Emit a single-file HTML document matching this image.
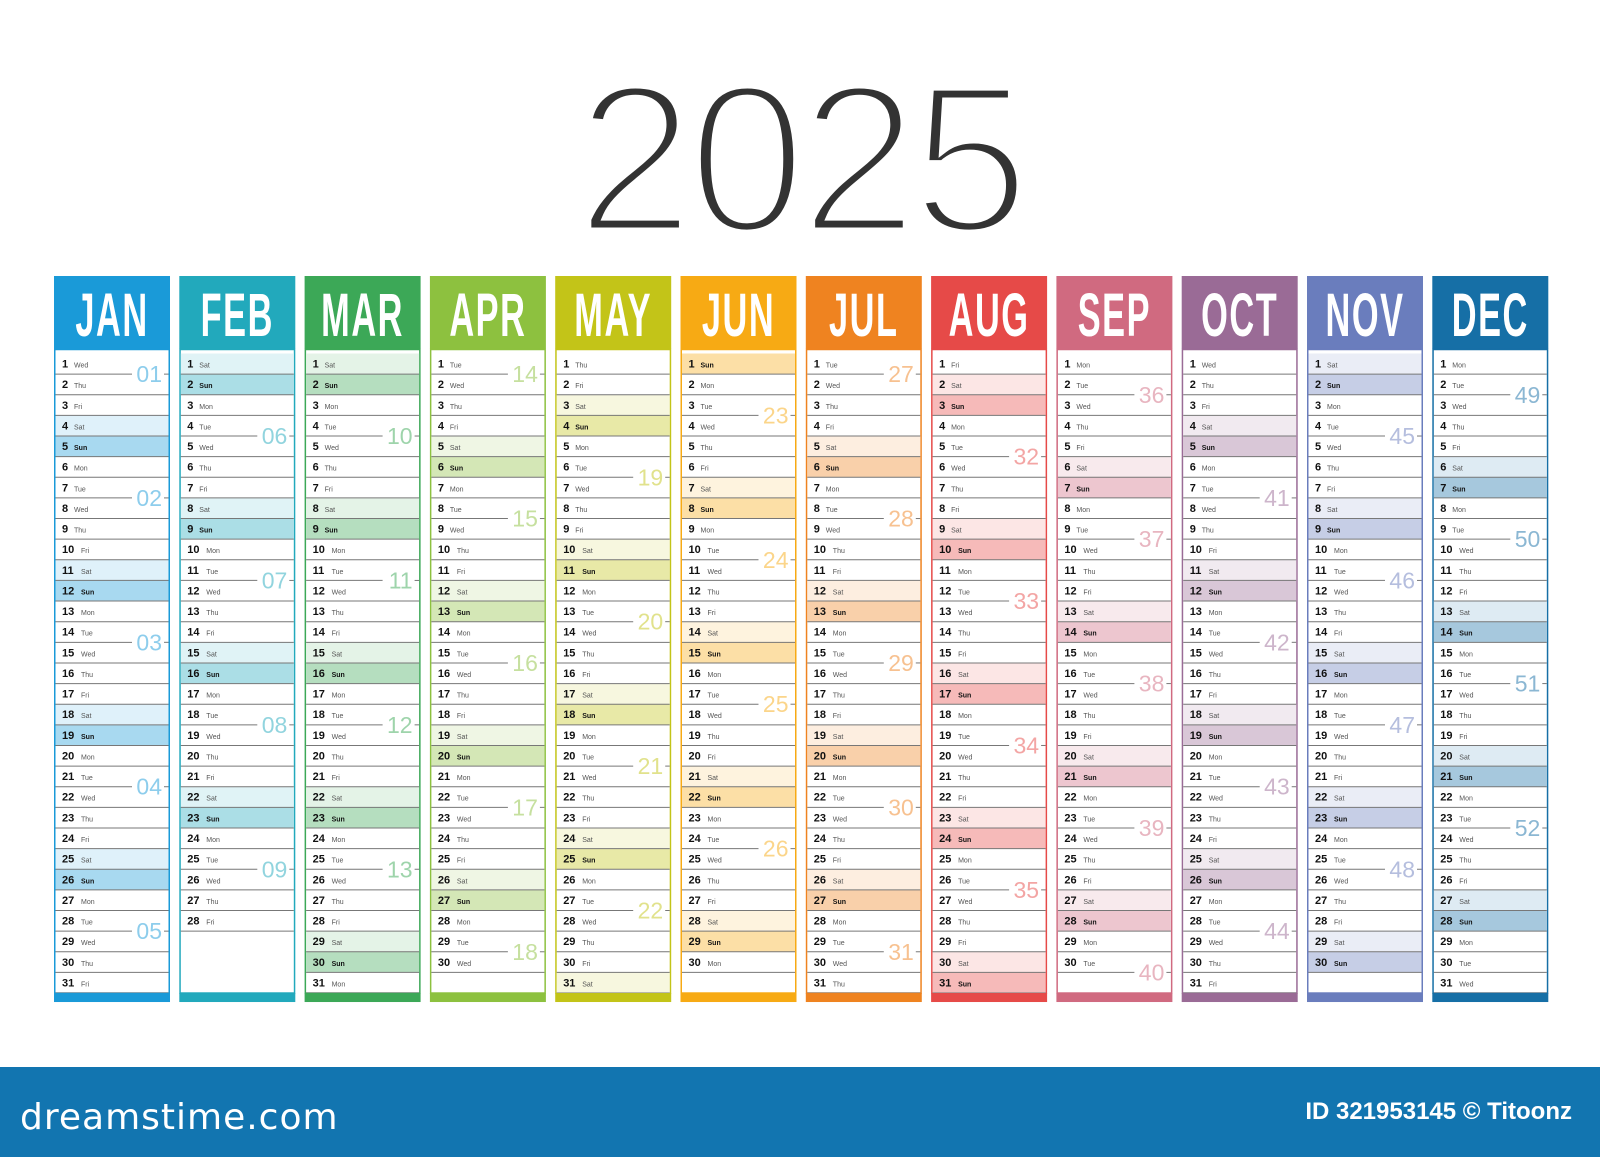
<!DOCTYPE html>
<html><head><meta charset="utf-8"><style>
html,body{margin:0;padding:0;background:#fff;}
body{width:1600px;height:1157px;position:relative;overflow:hidden;font-family:"Liberation Sans",sans-serif;}
#title{position:absolute;left:0;width:1600px;top:44px;text-align:center;font-size:212px;line-height:230px;color:#333;-webkit-text-stroke:9px #fff;paint-order:fill;letter-spacing:-6px;}
#footer{position:absolute;left:0;top:1067px;width:1600px;height:90px;background:#1275b0;}
#brand{position:absolute;left:20px;top:30px;color:#fff;font-size:36px;font-family:"DejaVu Sans","Liberation Sans",sans-serif;letter-spacing:1px;}
#imgid{position:absolute;right:28px;top:31px;color:#fff;font-size:24px;font-weight:bold;}
</style></head><body>
<div id="title">2025</div>
<svg id="cal" width="1600" height="1157" style="position:absolute;left:0;top:0"></svg>
<div id="footer">
<div id="brand">dreamstime.com</div>
<div id="imgid">ID 321953145 © Titoonz</div>
</div>
<script>
const monthNames=["JAN","FEB","MAR","APR","MAY","JUN","JUL","AUG","SEP","OCT","NOV","DEC"];
const monthColors=["#1a9ad8","#22a9bc","#3ca857","#8dc13f","#c3c418","#f7aa14","#ef8320","#e64a48","#d06a80","#9a6b96","#6a7dbd","#166fa6"];
const daysInMonth=[31,28,31,30,31,30,31,31,30,31,30,31];
const dayNames=["Sun","Mon","Tue","Wed","Thu","Fri","Sat"];
const year=2025;
const NS="http://www.w3.org/2000/svg";
const svg=document.getElementById('cal');
const X0=54,PITCH=125.3,W=116,HT=276,HH=73,RY=353.5,RH=20.63;
function mk(t,a,p){const e=document.createElementNS(NS,t);for(const k in a)e.setAttribute(k,a[k]);(p||svg).appendChild(e);return e;}
function tint(hex,a){const n=parseInt(hex.slice(1),16);const r=n>>16,g=(n>>8)&255,b=n&255;
 const m=v=>Math.round(255+(v-255)*a);return `rgb(${m(r)},${m(g)},${m(b)})`;}
function isoWeek(d){const t=new Date(Date.UTC(d.getFullYear(),d.getMonth(),d.getDate()));const dn=t.getUTCDay()||7;t.setUTCDate(t.getUTCDate()+4-dn);const ys=new Date(Date.UTC(t.getUTCFullYear(),0,1));return Math.ceil(((t-ys)/86400000+1)/7);}
monthNames.forEach((name,m)=>{
 const x=X0+m*PITCH,c=monthColors[m];
 const g=mk('g',{});
 
 
 const hdr=mk('rect',{x:x,y:HT,width:W,height:HH,fill:c},g);
 
 
 const cx=x+W/2,cy=HT+60;
 const ht=mk('text',{x:cx,y:cy,'text-anchor':'middle',fill:'#fff','font-family':'"Liberation Sans Narrow","Liberation Sans",sans-serif','font-weight':'bold','font-size':44,'letter-spacing':2,transform:`translate(${cx},${cy}) scale(0.78,1.4) translate(${-cx},${-cy})`},g);
 ht.textContent=name;
 
 
 const bottom=RY+31*RH;
 mk('rect',{x:x+0.75,y:RY-4,width:W-1.5,height:bottom-RY+4,fill:'#fff',stroke:c,'stroke-width':1.5},g);
 const weekMarks=[];
 for(let d=1;d<=daysInMonth[m];d++){
  const dt=new Date(year,m,d),wd=dt.getDay(),y=RY+(d-1)*RH;
  let fill=null;
  if(wd===6)fill=tint(c,0.14);if(wd===0)fill=tint(c,0.38);
  if(fill){const r=mk('rect',{x:x+1.5,y:y,width:W-3,height:RH,fill:fill},g);
   
   }
  const dn=mk('text',{x:x+8,y:y+14,'font-size':11,'font-weight':'bold',fill:'#111'},g);
  dn.textContent=d;
  
  
  const nm=mk('text',{x:x+(d>9?27:20),y:y+14,'font-size':7,'font-weight':wd===0?'bold':'normal',fill:wd===0?'#111':'#555'},g);
  nm.textContent=dayNames[wd];
  
  
  if(wd===2||(m===0&&d===1)){ if(!(m===11&&d===30)) weekMarks.push({by:y+RH,wk:isoWeek(dt)}); }
 }
 for(let d=1;d<=daysInMonth[m];d++){
  const by=RY+d*RH;
  const wm=weekMarks.find(w=>Math.abs(w.by-by)<0.1);
  if(wm){
   mk('line',{x1:x+1.5,x2:x+W-38,y1:by,y2:by,stroke:'#777','stroke-width':1},g);
   mk('line',{x1:x+W-6,x2:x+W-1.5,y1:by,y2:by,stroke:'#777','stroke-width':1},g);
   const wt=mk('text',{x:x+W-8,y:by+8,'text-anchor':'end','font-family':'"Liberation Sans Narrow","Liberation Sans",sans-serif','font-size':23,fill:tint(c,0.5)},g);
   wt.textContent=String(wm.wk).padStart(2,'0');
   
   
  } else mk('line',{x1:x+1.5,x2:x+W-1.5,y1:by,y2:by,stroke:'#777','stroke-width':1},g);
 }
 const st=mk('rect',{x:x,y:bottom,width:W,height:9,fill:c},g);
 
 
});
</script>
</body></html>
